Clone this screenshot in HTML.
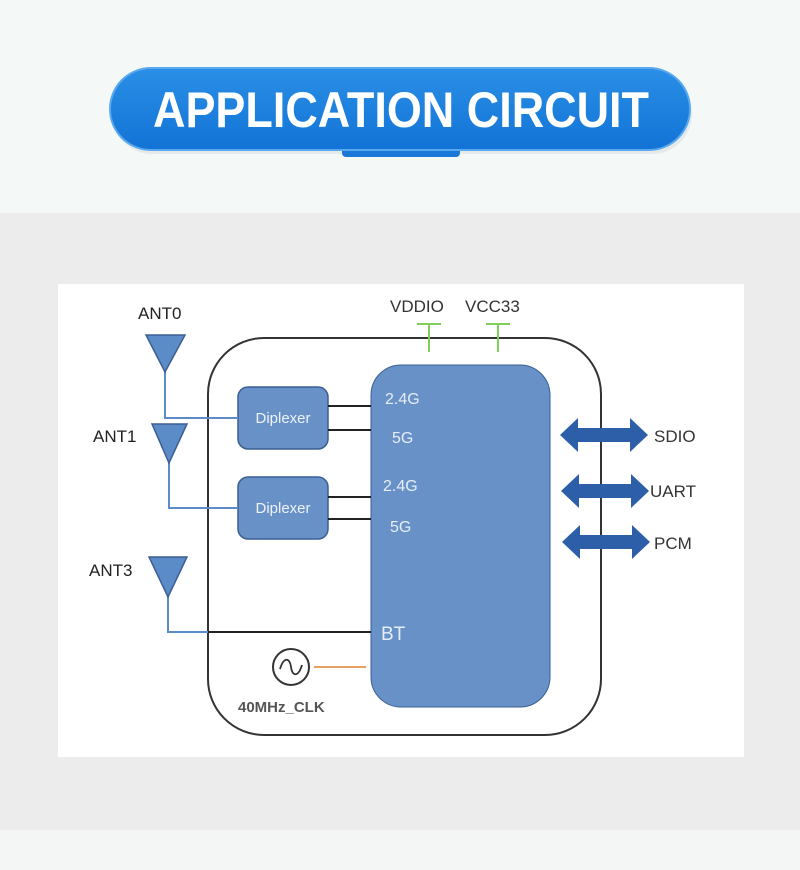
<!DOCTYPE html>
<html><head><style>
body{margin:0;width:800px;height:870px;overflow:hidden;background:#f4f9f8;font-family:"Liberation Sans",sans-serif}
</style></head><body>
<svg width="800" height="870" xmlns="http://www.w3.org/2000/svg" style="position:absolute;left:0;top:0">
<defs>
<linearGradient id="pg" x1="0" y1="0" x2="0" y2="1"><stop offset="0" stop-color="#2a8fe6"/><stop offset="1" stop-color="#1273d6"/></linearGradient>
<g id="arr"><polygon points="0,0 18,-17 18,-7 70,-7 70,-17 88,0 70,17 70,7 18,7 18,17" fill="#2d5ea8"/></g>
</defs>
<rect x="0" y="0" width="800" height="213" fill="#f4f9f8"/>
<rect x="112" y="74" width="580" height="80" rx="40" fill="#d8dfe2" opacity="0.6"/>
<rect x="342" y="140" width="118" height="17" rx="4" fill="#1a78d8"/>
<rect x="110" y="68" width="580" height="82" rx="41" fill="url(#pg)" stroke="#5aa9ee" stroke-width="2"/>
<text x="153" y="127" textLength="496" lengthAdjust="spacingAndGlyphs" font-size="50" font-weight="bold" fill="#fff" font-family="Liberation Sans">APPLICATION CIRCUIT</text>
<rect x="0" y="213" width="800" height="617" fill="#ececec"/>
<rect x="0" y="830" width="800" height="40" fill="#f4f6f5"/>
<rect x="58" y="284" width="686" height="473" fill="#fff"/>
<rect x="208" y="338" width="393" height="397" rx="56" fill="none" stroke="#333" stroke-width="2"/>
<rect x="371" y="365" width="179" height="342" rx="30" fill="#6891c8" stroke="#3b5f92" stroke-width="1"/>
<g stroke="#7fcf5a" stroke-width="2"><line x1="417" y1="324" x2="441" y2="324"/><line x1="429" y1="324" x2="429" y2="352"/><line x1="486" y1="324" x2="510" y2="324"/><line x1="498" y1="324" x2="498" y2="352"/></g>
<text x="390" y="312" font-size="17" fill="#333">VDDIO</text>
<text x="465" y="312" font-size="17" fill="#333">VCC33</text>
<g fill="#6891c8" stroke="#3b5f92" stroke-width="1.5">
<rect x="238" y="387" width="90" height="62" rx="10"/>
<rect x="238" y="477" width="90" height="62" rx="10"/>
</g>
<text x="283" y="423" text-anchor="middle" font-size="15" fill="#eef3fa">Diplexer</text>
<text x="283" y="513" text-anchor="middle" font-size="15" fill="#eef3fa">Diplexer</text>
<g stroke="#222" stroke-width="2"><line x1="328" y1="406" x2="371" y2="406"/><line x1="328" y1="430" x2="371" y2="430"/><line x1="328" y1="497" x2="371" y2="497"/><line x1="328" y1="519" x2="371" y2="519"/><line x1="208" y1="632" x2="371" y2="632"/></g>
<g stroke="#5b8cc8" stroke-width="2" fill="none">
<polyline points="165,372 165,418 238,418"/>
<polyline points="169,463 169,508 238,508"/>
<polyline points="168,597 168,632 208,632"/>
</g>
<g fill="#5b8cc8" stroke="#3b5f92" stroke-width="1.5">
<polygon points="146,335 185,335 165,372"/>
<polygon points="152,424 187,424 169,463"/>
<polygon points="149,557 187,557 168,597"/>
</g>
<text x="138" y="319" font-size="17" fill="#222">ANT0</text>
<text x="93" y="442" font-size="17" fill="#222">ANT1</text>
<text x="89" y="576" font-size="17" fill="#222">ANT3</text>
<g font-size="16" fill="#e6edf7">
<text x="385" y="404">2.4G</text><text x="392" y="443">5G</text>
<text x="383" y="491">2.4G</text><text x="390" y="532">5G</text>
<text x="381" y="640" font-size="19">BT</text>
</g>
<circle cx="291" cy="667" r="18" fill="none" stroke="#333" stroke-width="2"/>
<path d="M280,669 C284,656 290,658 291,667 C292,676 298,678 302,665" fill="none" stroke="#333" stroke-width="1.8"/>
<line x1="314" y1="667" x2="366" y2="667" stroke="#e8a060" stroke-width="2"/>
<text x="238" y="712" font-size="15" fill="#555" font-weight="bold">40MHz_CLK</text>
<use href="#arr" x="560" y="435"/>
<use href="#arr" x="561" y="491"/>
<use href="#arr" x="562" y="542"/>
<text x="654" y="442" font-size="17" fill="#333">SDIO</text>
<text x="650" y="497" font-size="17" fill="#333">UART</text>
<text x="654" y="549" font-size="17" fill="#333">PCM</text>
</svg>
</body></html>
